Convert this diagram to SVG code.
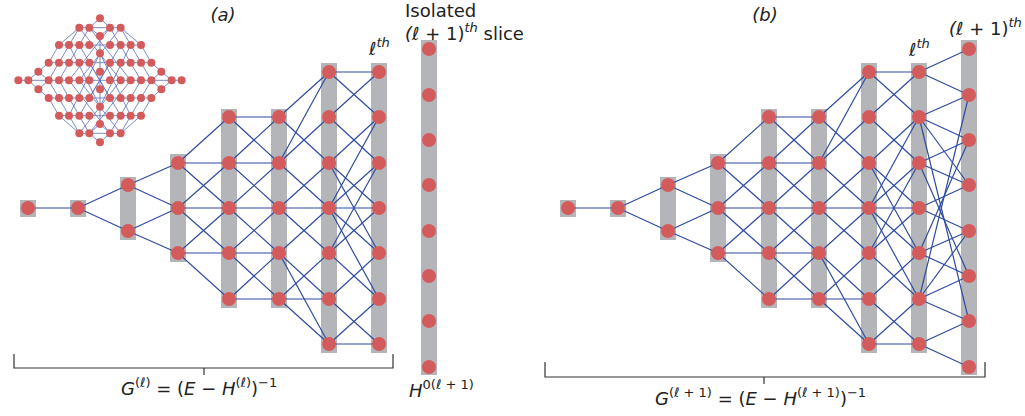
<svg xmlns="http://www.w3.org/2000/svg" width="1025" height="416" viewBox="0 0 1025 416">
<style>
.bar{fill:#b4b5b8}
.n{fill:#d35b5b}
.e line{stroke:#2f4ba0;stroke-width:1.2}
.ie line{stroke:#5a70b8;stroke-width:2.4}
.t{font-family:"DejaVu Sans",sans-serif;fill:#222}
.br{fill:none;stroke:#333;stroke-width:1.2}
</style>
<rect width="1025" height="416" fill="#fff"/>
<!-- inset -->
<g id="inset" transform="scale(0.3333)">
<g class="ie">
<line x1="55" y1="241" x2="545" y2="241"/><line x1="146" y1="188" x2="454" y2="188"/><line x1="146" y1="294" x2="454" y2="294"/>
<line x1="177" y1="135" x2="423" y2="135"/><line x1="177" y1="347" x2="423" y2="347"/>
<line x1="238" y1="83" x2="362" y2="83"/><line x1="238" y1="400" x2="362" y2="400"/>
<line x1="85" y1="241" x2="115" y2="215"/><line x1="85" y1="241" x2="115" y2="268"/><line x1="115" y1="215" x2="146" y2="188"/><line x1="115" y1="268" x2="146" y2="294"/>
<line x1="515" y1="241" x2="484" y2="215"/><line x1="515" y1="241" x2="484" y2="268"/><line x1="484" y1="215" x2="454" y2="188"/><line x1="484" y1="268" x2="454" y2="294"/>
<line x1="115" y1="215" x2="146" y2="241"/><line x1="115" y1="268" x2="146" y2="241"/><line x1="484" y1="215" x2="454" y2="241"/><line x1="484" y1="268" x2="454" y2="241"/>
<line x1="146" y1="188" x2="177" y2="135"/><line x1="146" y1="294" x2="177" y2="347"/><line x1="454" y1="188" x2="423" y2="135"/><line x1="454" y1="294" x2="423" y2="347"/>
<line x1="177" y1="135" x2="238" y2="83"/><line x1="177" y1="347" x2="238" y2="400"/><line x1="423" y1="135" x2="362" y2="83"/><line x1="423" y1="347" x2="362" y2="400"/>
<line x1="268" y1="83" x2="300" y2="55"/><line x1="330" y1="83" x2="300" y2="55"/><line x1="268" y1="400" x2="300" y2="427"/><line x1="330" y1="400" x2="300" y2="427"/>
<line x1="268" y1="83" x2="300" y2="108"/><line x1="330" y1="83" x2="300" y2="108"/><line x1="268" y1="400" x2="300" y2="372"/><line x1="330" y1="400" x2="300" y2="372"/>
<line x1="146" y1="241" x2="238" y2="83"/><line x1="177" y1="241" x2="268" y2="83"/><line x1="207" y1="241" x2="330" y2="83"/><line x1="238" y1="241" x2="362" y2="83"/>
<line x1="362" y1="241" x2="238" y2="83"/><line x1="392" y1="241" x2="268" y2="83"/><line x1="423" y1="241" x2="330" y2="83"/><line x1="454" y1="241" x2="362" y2="83"/>
<line x1="146" y1="241" x2="238" y2="400"/><line x1="177" y1="241" x2="268" y2="400"/><line x1="207" y1="241" x2="330" y2="400"/><line x1="238" y1="241" x2="362" y2="400"/>
<line x1="362" y1="241" x2="238" y2="400"/><line x1="392" y1="241" x2="268" y2="400"/><line x1="423" y1="241" x2="330" y2="400"/><line x1="454" y1="241" x2="362" y2="400"/>
<line x1="207" y1="135" x2="300" y2="320"/><line x1="392" y1="135" x2="300" y2="320"/><line x1="207" y1="347" x2="300" y2="160"/><line x1="392" y1="347" x2="300" y2="160"/>
<line x1="238" y1="135" x2="330" y2="294"/><line x1="362" y1="135" x2="268" y2="294"/><line x1="238" y1="347" x2="330" y2="188"/><line x1="362" y1="347" x2="268" y2="188"/>
<line x1="300" y1="108" x2="300" y2="372"/>
</g>
<g class="n">
<circle cx="300" cy="55" r="12"/><circle cx="300" cy="108" r="12"/><circle cx="300" cy="160" r="12"/><circle cx="300" cy="215" r="12"/><circle cx="300" cy="268" r="12"/><circle cx="300" cy="320" r="12"/><circle cx="300" cy="372" r="12"/><circle cx="300" cy="427" r="12"/>
<circle cx="238" cy="83" r="12"/><circle cx="268" cy="83" r="12"/><circle cx="330" cy="83" r="12"/><circle cx="362" cy="83" r="12"/>
<circle cx="238" cy="400" r="12"/><circle cx="268" cy="400" r="12"/><circle cx="330" cy="400" r="12"/><circle cx="362" cy="400" r="12"/>
<circle cx="177" cy="135" r="12"/><circle cx="207" cy="135" r="12"/><circle cx="238" cy="135" r="12"/><circle cx="268" cy="135" r="12"/><circle cx="330" cy="135" r="12"/><circle cx="362" cy="135" r="12"/><circle cx="392" cy="135" r="12"/><circle cx="423" cy="135" r="12"/>
<circle cx="177" cy="347" r="12"/><circle cx="207" cy="347" r="12"/><circle cx="238" cy="347" r="12"/><circle cx="268" cy="347" r="12"/><circle cx="330" cy="347" r="12"/><circle cx="362" cy="347" r="12"/><circle cx="392" cy="347" r="12"/><circle cx="423" cy="347" r="12"/>
<circle cx="146" cy="188" r="12"/><circle cx="177" cy="188" r="12"/><circle cx="207" cy="188" r="12"/><circle cx="238" cy="188" r="12"/><circle cx="268" cy="188" r="12"/><circle cx="330" cy="188" r="12"/><circle cx="362" cy="188" r="12"/><circle cx="392" cy="188" r="12"/><circle cx="423" cy="188" r="12"/><circle cx="454" cy="188" r="12"/>
<circle cx="146" cy="294" r="12"/><circle cx="177" cy="294" r="12"/><circle cx="207" cy="294" r="12"/><circle cx="238" cy="294" r="12"/><circle cx="268" cy="294" r="12"/><circle cx="330" cy="294" r="12"/><circle cx="362" cy="294" r="12"/><circle cx="392" cy="294" r="12"/><circle cx="423" cy="294" r="12"/><circle cx="454" cy="294" r="12"/>
<circle cx="55" cy="241" r="12"/><circle cx="85" cy="241" r="12"/><circle cx="146" cy="241" r="12"/><circle cx="177" cy="241" r="12"/><circle cx="207" cy="241" r="12"/><circle cx="238" cy="241" r="12"/><circle cx="268" cy="241" r="12"/><circle cx="330" cy="241" r="12"/><circle cx="362" cy="241" r="12"/><circle cx="392" cy="241" r="12"/><circle cx="423" cy="241" r="12"/><circle cx="454" cy="241" r="12"/><circle cx="515" cy="241" r="12"/><circle cx="545" cy="241" r="12"/>
<circle cx="115" cy="215" r="12"/><circle cx="484" cy="215" r="12"/><circle cx="115" cy="268" r="12"/><circle cx="484" cy="268" r="12"/>
</g>
</g>

<!-- Panel a bars -->
<g id="bars-a">
<rect class="bar" x="20" y="200" width="16" height="17"/>
<rect class="bar" x="70" y="200" width="16" height="17"/>
<rect class="bar" x="120" y="177" width="16" height="63"/>
<rect class="bar" x="170" y="154" width="16" height="108"/>
<rect class="bar" x="221" y="109" width="16" height="199"/>
<rect class="bar" x="271" y="109" width="16" height="199"/>
<rect class="bar" x="321" y="63" width="16" height="290"/>
<rect class="bar" x="371" y="63" width="16" height="290"/>
<rect class="bar" x="421" y="40" width="16" height="335"/>
</g>
<g id="bars-b" transform="translate(540,0)">
<rect class="bar" x="20" y="200" width="16" height="17"/>
<rect class="bar" x="70" y="200" width="16" height="17"/>
<rect class="bar" x="120" y="177" width="16" height="63"/>
<rect class="bar" x="170" y="154" width="16" height="108"/>
<rect class="bar" x="221" y="109" width="16" height="199"/>
<rect class="bar" x="271" y="109" width="16" height="199"/>
<rect class="bar" x="321" y="63" width="16" height="290"/>
<rect class="bar" x="371" y="63" width="16" height="290"/>
<rect class="bar" x="421" y="40" width="16" height="335"/>
</g>

<g id="connectors">
<g class="e" id="edges-a">
<line x1="28" y1="208" x2="78" y2="208"/>
<line x1="78" y1="208" x2="128" y2="185"/><line x1="78" y1="208" x2="128" y2="231"/>
<line x1="128" y1="185" x2="178" y2="163"/><line x1="128" y1="185" x2="178" y2="208"/><line x1="128" y1="231" x2="178" y2="208"/><line x1="128" y1="231" x2="178" y2="253"/>
<line x1="178" y1="163" x2="229" y2="117"/><line x1="178" y1="163" x2="229" y2="163"/><line x1="178" y1="163" x2="229" y2="208"/>
<line x1="178" y1="208" x2="229" y2="163"/><line x1="178" y1="208" x2="229" y2="208"/><line x1="178" y1="208" x2="229" y2="253"/>
<line x1="178" y1="253" x2="229" y2="208"/><line x1="178" y1="253" x2="229" y2="253"/><line x1="178" y1="253" x2="229" y2="299"/>
<line x1="229" y1="117" x2="279" y2="117"/><line x1="229" y1="117" x2="279" y2="163"/>
<line x1="229" y1="163" x2="279" y2="117"/><line x1="229" y1="163" x2="279" y2="163"/><line x1="229" y1="163" x2="279" y2="208"/>
<line x1="229" y1="208" x2="279" y2="163"/><line x1="229" y1="208" x2="279" y2="208"/><line x1="229" y1="208" x2="279" y2="253"/>
<line x1="229" y1="253" x2="279" y2="208"/><line x1="229" y1="253" x2="279" y2="253"/><line x1="229" y1="253" x2="279" y2="299"/>
<line x1="229" y1="299" x2="279" y2="253"/><line x1="229" y1="299" x2="279" y2="299"/>
<line x1="279" y1="117" x2="329" y2="72"/><line x1="279" y1="117" x2="329" y2="163"/>
<line x1="279" y1="163" x2="329" y2="117"/><line x1="279" y1="163" x2="329" y2="208"/><line x1="279" y1="163" x2="329" y2="72"/>
<line x1="279" y1="208" x2="329" y2="163"/><line x1="279" y1="208" x2="329" y2="253"/><line x1="279" y1="208" x2="329" y2="208"/>
<line x1="279" y1="253" x2="329" y2="208"/><line x1="279" y1="253" x2="329" y2="299"/><line x1="279" y1="253" x2="329" y2="344"/>
<line x1="279" y1="299" x2="329" y2="253"/><line x1="279" y1="299" x2="329" y2="344"/><line x1="279" y1="299" x2="329" y2="299"/>
<line x1="329" y1="72" x2="379" y2="72"/><line x1="329" y1="72" x2="379" y2="117"/>
<line x1="329" y1="117" x2="379" y2="72"/><line x1="329" y1="117" x2="379" y2="163"/>
<line x1="329" y1="163" x2="379" y2="117"/><line x1="329" y1="163" x2="379" y2="208"/><line x1="329" y1="163" x2="379" y2="253"/>
<line x1="329" y1="208" x2="379" y2="163"/><line x1="329" y1="208" x2="379" y2="253"/><line x1="329" y1="208" x2="379" y2="208"/><line x1="329" y1="208" x2="379" y2="117"/><line x1="329" y1="208" x2="379" y2="299"/>
<line x1="329" y1="253" x2="379" y2="208"/><line x1="329" y1="253" x2="379" y2="299"/><line x1="329" y1="253" x2="379" y2="163"/>
<line x1="329" y1="299" x2="379" y2="253"/><line x1="329" y1="299" x2="379" y2="344"/>
<line x1="329" y1="344" x2="379" y2="299"/><line x1="329" y1="344" x2="379" y2="344"/>
</g>
<g class="e" id="edges-b" transform="translate(540,0)">
<line x1="28" y1="208" x2="78" y2="208"/>
<line x1="78" y1="208" x2="128" y2="185"/><line x1="78" y1="208" x2="128" y2="231"/>
<line x1="128" y1="185" x2="178" y2="163"/><line x1="128" y1="185" x2="178" y2="208"/><line x1="128" y1="231" x2="178" y2="208"/><line x1="128" y1="231" x2="178" y2="253"/>
<line x1="178" y1="163" x2="229" y2="117"/><line x1="178" y1="163" x2="229" y2="163"/><line x1="178" y1="163" x2="229" y2="208"/>
<line x1="178" y1="208" x2="229" y2="163"/><line x1="178" y1="208" x2="229" y2="208"/><line x1="178" y1="208" x2="229" y2="253"/>
<line x1="178" y1="253" x2="229" y2="208"/><line x1="178" y1="253" x2="229" y2="253"/><line x1="178" y1="253" x2="229" y2="299"/>
<line x1="229" y1="117" x2="279" y2="117"/><line x1="229" y1="117" x2="279" y2="163"/>
<line x1="229" y1="163" x2="279" y2="117"/><line x1="229" y1="163" x2="279" y2="163"/><line x1="229" y1="163" x2="279" y2="208"/>
<line x1="229" y1="208" x2="279" y2="163"/><line x1="229" y1="208" x2="279" y2="208"/><line x1="229" y1="208" x2="279" y2="253"/>
<line x1="229" y1="253" x2="279" y2="208"/><line x1="229" y1="253" x2="279" y2="253"/><line x1="229" y1="253" x2="279" y2="299"/>
<line x1="229" y1="299" x2="279" y2="253"/><line x1="229" y1="299" x2="279" y2="299"/>
<line x1="279" y1="117" x2="329" y2="72"/><line x1="279" y1="117" x2="329" y2="163"/>
<line x1="279" y1="163" x2="329" y2="117"/><line x1="279" y1="163" x2="329" y2="208"/><line x1="279" y1="163" x2="329" y2="72"/>
<line x1="279" y1="208" x2="329" y2="163"/><line x1="279" y1="208" x2="329" y2="253"/><line x1="279" y1="208" x2="329" y2="208"/>
<line x1="279" y1="253" x2="329" y2="208"/><line x1="279" y1="253" x2="329" y2="299"/><line x1="279" y1="253" x2="329" y2="344"/>
<line x1="279" y1="299" x2="329" y2="253"/><line x1="279" y1="299" x2="329" y2="344"/><line x1="279" y1="299" x2="329" y2="299"/>
<line x1="329" y1="72" x2="379" y2="72"/><line x1="329" y1="72" x2="379" y2="117"/>
<line x1="329" y1="117" x2="379" y2="72"/><line x1="329" y1="117" x2="379" y2="163"/>
<line x1="329" y1="163" x2="379" y2="117"/><line x1="329" y1="163" x2="379" y2="208"/><line x1="329" y1="163" x2="379" y2="253"/>
<line x1="329" y1="208" x2="379" y2="163"/><line x1="329" y1="208" x2="379" y2="253"/><line x1="329" y1="208" x2="379" y2="208"/><line x1="329" y1="208" x2="379" y2="117"/><line x1="329" y1="208" x2="379" y2="299"/>
<line x1="329" y1="253" x2="379" y2="208"/><line x1="329" y1="253" x2="379" y2="299"/><line x1="329" y1="253" x2="379" y2="163"/>
<line x1="329" y1="299" x2="379" y2="253"/><line x1="329" y1="299" x2="379" y2="344"/>
<line x1="329" y1="344" x2="379" y2="299"/><line x1="329" y1="344" x2="379" y2="344"/>
<line x1="379" y1="72" x2="429" y2="49"/><line x1="379" y1="72" x2="429" y2="95"/>
<line x1="379" y1="117" x2="429" y2="95"/><line x1="379" y1="117" x2="429" y2="140"/><line x1="379" y1="117" x2="429" y2="185"/><line x1="379" y1="117" x2="429" y2="321"/>
<line x1="379" y1="163" x2="429" y2="140"/><line x1="379" y1="163" x2="429" y2="185"/><line x1="379" y1="163" x2="429" y2="276"/>
<line x1="379" y1="208" x2="429" y2="185"/><line x1="379" y1="208" x2="429" y2="231"/>
<line x1="379" y1="253" x2="429" y2="231"/><line x1="379" y1="253" x2="429" y2="276"/><line x1="379" y1="253" x2="429" y2="140"/>
<line x1="379" y1="299" x2="429" y2="276"/><line x1="379" y1="299" x2="429" y2="321"/><line x1="379" y1="299" x2="429" y2="231"/><line x1="379" y1="299" x2="429" y2="95"/>
<line x1="379" y1="344" x2="429" y2="321"/><line x1="379" y1="344" x2="429" y2="367"/>
</g>
</g>

<!-- Nodes panel a -->
<g id="nodes-a" class="n">
<g id="a0"><circle cx="28" cy="208" r="7"/></g>
<g id="a1"><circle cx="78" cy="208" r="7"/></g>
<g id="a2"><circle cx="128" cy="185" r="7"/><circle cx="128" cy="231" r="7"/></g>
<g id="a3"><circle cx="178" cy="163" r="7"/><circle cx="178" cy="208" r="7"/><circle cx="178" cy="253" r="7"/></g>
<g id="a4"><circle cx="229" cy="117" r="7"/><circle cx="229" cy="163" r="7"/><circle cx="229" cy="208" r="7"/><circle cx="229" cy="253" r="7"/><circle cx="229" cy="299" r="7"/></g>
<g id="a5"><circle cx="279" cy="117" r="7"/><circle cx="279" cy="163" r="7"/><circle cx="279" cy="208" r="7"/><circle cx="279" cy="253" r="7"/><circle cx="279" cy="299" r="7"/></g>
<g id="a6"><circle cx="329" cy="72" r="7"/><circle cx="329" cy="117" r="7"/><circle cx="329" cy="163" r="7"/><circle cx="329" cy="208" r="7"/><circle cx="329" cy="253" r="7"/><circle cx="329" cy="299" r="7"/><circle cx="329" cy="344" r="7"/></g>
<g id="a7"><circle cx="379" cy="72" r="7"/><circle cx="379" cy="117" r="7"/><circle cx="379" cy="163" r="7"/><circle cx="379" cy="208" r="7"/><circle cx="379" cy="253" r="7"/><circle cx="379" cy="299" r="7"/><circle cx="379" cy="344" r="7"/></g>
<g id="a8"><circle cx="429" cy="49" r="7"/><circle cx="429" cy="95" r="7"/><circle cx="429" cy="140" r="7"/><circle cx="429" cy="185" r="7"/><circle cx="429" cy="231" r="7"/><circle cx="429" cy="276" r="7"/><circle cx="429" cy="321" r="7"/><circle cx="429" cy="367" r="7"/></g>
</g>
<g id="nodes-b" class="n" transform="translate(540,0)">
<g id="b0"><circle cx="28" cy="208" r="7"/></g>
<g id="b1"><circle cx="78" cy="208" r="7"/></g>
<g id="b2"><circle cx="128" cy="185" r="7"/><circle cx="128" cy="231" r="7"/></g>
<g id="b3"><circle cx="178" cy="163" r="7"/><circle cx="178" cy="208" r="7"/><circle cx="178" cy="253" r="7"/></g>
<g id="b4"><circle cx="229" cy="117" r="7"/><circle cx="229" cy="163" r="7"/><circle cx="229" cy="208" r="7"/><circle cx="229" cy="253" r="7"/><circle cx="229" cy="299" r="7"/></g>
<g id="b5"><circle cx="279" cy="117" r="7"/><circle cx="279" cy="163" r="7"/><circle cx="279" cy="208" r="7"/><circle cx="279" cy="253" r="7"/><circle cx="279" cy="299" r="7"/></g>
<g id="b6"><circle cx="329" cy="72" r="7"/><circle cx="329" cy="117" r="7"/><circle cx="329" cy="163" r="7"/><circle cx="329" cy="208" r="7"/><circle cx="329" cy="253" r="7"/><circle cx="329" cy="299" r="7"/><circle cx="329" cy="344" r="7"/></g>
<g id="b7"><circle cx="379" cy="72" r="7"/><circle cx="379" cy="117" r="7"/><circle cx="379" cy="163" r="7"/><circle cx="379" cy="208" r="7"/><circle cx="379" cy="253" r="7"/><circle cx="379" cy="299" r="7"/><circle cx="379" cy="344" r="7"/></g>
<g id="b8"><circle cx="429" cy="49" r="7"/><circle cx="429" cy="95" r="7"/><circle cx="429" cy="140" r="7"/><circle cx="429" cy="185" r="7"/><circle cx="429" cy="231" r="7"/><circle cx="429" cy="276" r="7"/><circle cx="429" cy="321" r="7"/><circle cx="429" cy="367" r="7"/></g>
</g>

<!-- brackets -->
<path class="br" d="M14,354 V368 H393 V354 M204,368 V375"/>
<path class="br" d="M545,362 V377 H985 V362 M764,377 V384"/>

<!-- texts -->
<g class="t" font-size="18">
<text x="223" y="21" text-anchor="middle" font-style="italic">(a)</text>
<text x="765" y="21" text-anchor="middle" font-style="italic">(b)</text>
<text x="405" y="17">Isolated</text>
<text x="405" y="40"><tspan font-style="italic">(ℓ</tspan> + 1)<tspan font-style="italic" font-size="13" dy="-8">th</tspan><tspan dy="8"> slice</tspan></text>
<text x="369" y="55" font-style="italic">ℓ<tspan font-size="13" dy="-8">th</tspan></text>
<text x="909" y="56" font-style="italic">ℓ<tspan font-size="13" dy="-8">th</tspan></text>
<text x="949" y="35"><tspan font-style="italic">(ℓ</tspan> + 1)<tspan font-style="italic" font-size="13" dy="-8">th</tspan></text>
<text x="121" y="395" font-style="italic">G<tspan font-size="13" dy="-8" font-style="normal">(ℓ)</tspan><tspan dy="8" font-style="normal"> = (</tspan>E<tspan font-style="normal"> − </tspan>H<tspan font-size="13" dy="-8" font-style="normal">(ℓ)</tspan><tspan dy="8" font-style="normal">)</tspan><tspan font-size="13" dy="-8" font-style="normal">−1</tspan></text>
<text x="409" y="397" font-style="italic">H<tspan font-size="13" dy="-8" font-style="normal">0(ℓ + 1)</tspan></text>
<text x="655" y="405" font-style="italic">G<tspan font-size="13" dy="-8" font-style="normal">(ℓ + 1)</tspan><tspan dy="8" font-style="normal"> = (</tspan>E<tspan font-style="normal"> − </tspan>H<tspan font-size="13" dy="-8" font-style="normal">(ℓ + 1)</tspan><tspan dy="8" font-style="normal">)</tspan><tspan font-size="13" dy="-8" font-style="normal">−1</tspan></text>
</g>
</svg>
